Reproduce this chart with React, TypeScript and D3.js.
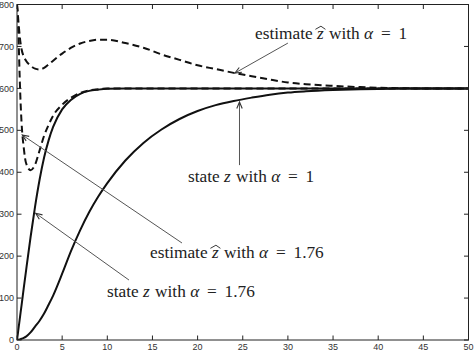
import { useEffect, useRef } from 'react'
import * as d3 from 'd3'

const W = 474
const H = 351

const tGrid = [0, 0.1, 0.2, 0.3, 0.4, 0.5, 0.75, 1, 1.5, 2, 2.5, 3, 3.5, 4, 5, 6, 7, 8, 9, 10, 12, 14, 16, 18, 20, 22, 24, 26, 28, 30, 32, 35, 38, 41, 44, 47, 50]

// state z, alpha = 1
const stateA1 = [0, 0, 1, 1, 2, 3, 5, 8, 18, 32, 46, 63, 84, 106, 158, 213, 262, 305, 342, 374, 428, 470, 502, 527, 546, 560, 570, 578, 585, 590, 593, 596, 598, 599, 600, 600, 600]
// state z, alpha = 1.76
const stateA176 = [0, 16, 33, 49, 66, 82, 124, 165, 245, 318, 382, 435, 476, 508, 550, 573, 587, 594, 597, 599, 600, 600, 600, 600, 600, 600, 600, 600, 600, 600, 600, 600, 600, 600, 600, 600, 600]
// estimate z-hat, alpha = 1
const estA1 = [800, 775, 748, 725, 707, 694, 676, 666, 654, 647, 645, 649, 657, 666, 683, 697, 707, 713, 716, 716, 708, 697, 681, 668, 655, 646, 637, 629, 621, 614, 610, 606, 603, 601, 600, 600, 600]
// estimate z-hat, alpha = 1.76
const estA176 = [800, 765, 700, 625, 565, 520, 458, 422, 405, 418, 452, 487, 513, 535, 561, 578, 589, 595, 598, 600, 600, 600, 600, 600, 600, 600, 600, 600, 600, 600, 600, 600, 600, 600, 600, 600, 600]

const xTicks = d3.range(0, 51, 5)
const yTicks = d3.range(0, 801, 100)

// annotation: label parts, text anchor point, arrow tail and tip (data coords)
const notes = [
  { kind: 'estimate', alpha: '1', text: [26.36, 717.7], tail: [30.0, 708], tip: [24.14, 636.6] },
  { kind: 'state', alpha: '1', text: [18.94, 376.7], tail: [24.64, 417], tip: [24.64, 567.5] },
  { kind: 'estimate', alpha: '1.76', text: [14.73, 195.5], tail: [18.27, 231.3], tip: [0.59, 488.8] },
  { kind: 'state', alpha: '1.76', text: [9.97, 102.5], tail: [12.4, 143], tip: [2.07, 302.1] },
]

export default function App() {
  const svgRef = useRef<SVGSVGElement | null>(null)

  useEffect(() => {
    const svg = d3.select(svgRef.current)
    svg.selectAll('*').remove()

    const x = d3.scaleLinear().domain([0, 50]).range([17, 468.5])
    const y = d3.scaleLinear().domain([0, 800]).range([340, 4.5])
    const [x0, x1] = x.range()
    const [y0, y1] = y.range()

    const lineGen = (vals: number[]) =>
      d3
        .line<number>()
        .x((_, i) => x(tGrid[i]))
        .y((v) => y(v))
        .curve(d3.curveMonotoneX)(vals)

    const plot = svg.append('g')
    plot
      .append('defs')
      .append('clipPath')
      .attr('id', 'clip')
      .append('rect')
      .attr('x', x0)
      .attr('y', y1)
      .attr('width', x1 - x0)
      .attr('height', y0 - y1)

    const curves = plot.append('g').attr('clip-path', 'url(#clip)')
    const series = [
      { vals: stateA1, dash: null },
      { vals: stateA176, dash: null },
      { vals: estA1, dash: '7,4' },
      { vals: estA176, dash: '7,4' },
    ]
    series.forEach((s) => {
      curves
        .append('path')
        .attr('d', lineGen(s.vals))
        .attr('fill', 'none')
        .attr('stroke', '#111')
        .attr('stroke-width', 2)
        .attr('stroke-dasharray', s.dash)
    })

    // frame + inward ticks
    const axes = svg.append('g').attr('stroke', '#222').attr('stroke-width', 1)
    axes
      .append('rect')
      .attr('x', x0)
      .attr('y', y1)
      .attr('width', x1 - x0)
      .attr('height', y0 - y1)
      .attr('fill', 'none')
    const tl = 4.5
    xTicks.forEach((t) => {
      axes.append('line').attr('x1', x(t)).attr('x2', x(t)).attr('y1', y0).attr('y2', y0 - tl)
      axes.append('line').attr('x1', x(t)).attr('x2', x(t)).attr('y1', y1).attr('y2', y1 + tl)
    })
    yTicks.forEach((v) => {
      axes.append('line').attr('x1', x0).attr('x2', x0 + tl).attr('y1', y(v)).attr('y2', y(v))
      axes.append('line').attr('x1', x1).attr('x2', x1 - tl).attr('y1', y(v)).attr('y2', y(v))
    })

    const labels = svg
      .append('g')
      .attr('font-family', 'Liberation Sans, Arial, sans-serif')
      .attr('font-size', 9)
      .attr('fill', '#333')
    xTicks.forEach((t) => {
      labels.append('text').attr('x', x(t)).attr('y', 350).attr('text-anchor', 'middle').text(t)
    })
    yTicks.forEach((v) => {
      labels
        .append('text')
        .attr('x', x0 - 3)
        .attr('y', y(v))
        .attr('dy', '0.35em')
        .attr('text-anchor', 'end')
        .text(v)
    })

    // annotations
    const ann = svg.append('g')
    const fs = 17.3
    notes.forEach((n) => {
      const tx = x(n.tail[0])
      const ty = y(n.tail[1])
      const px = x(n.tip[0])
      const py = y(n.tip[1])
      ann
        .append('line')
        .attr('x1', tx)
        .attr('y1', ty)
        .attr('x2', px)
        .attr('y2', py)
        .attr('stroke', '#555')
        .attr('stroke-width', 1)
      const ang = Math.atan2(ty - py, tx - px)
      const hl = 7
      const spread = 0.4
      const head = d3.path()
      head.moveTo(px + hl * Math.cos(ang - spread), py + hl * Math.sin(ang - spread))
      head.lineTo(px, py)
      head.lineTo(px + hl * Math.cos(ang + spread), py + hl * Math.sin(ang + spread))
      ann
        .append('path')
        .attr('d', head.toString())
        .attr('fill', 'none')
        .attr('stroke', '#333')
        .attr('stroke-width', 1.1)

      const text = ann
        .append('text')
        .attr('x', x(n.text[0]))
        .attr('y', y(n.text[1]))
        .attr('font-family', 'Liberation Serif, Times New Roman, serif')
        .attr('font-size', fs)
        .attr('fill', '#222')
      text.append('tspan').text(n.kind + ' ')
      const z = text.append('tspan').attr('font-style', 'italic').text('z')
      text.append('tspan').attr('dx', 1).text(' with ')
      text.append('tspan').attr('font-style', 'italic').text('α')
      text.append('tspan').attr('dx', 3.5).text(' =')
      text.append('tspan').attr('dx', 3.5).text(' ' + n.alpha)

      if (n.kind === 'estimate') {
        const bb = (z.node() as SVGTSpanElement).getBBox()
        const base = y(n.text[1])
        const hx0 = bb.x - 0.5
        const hx1 = bb.x + bb.width + 1.5
        const hat = d3.path()
        hat.moveTo(hx0, base - 0.56 * fs)
        hat.lineTo((hx0 + hx1) / 2 + 0.5, base - 0.74 * fs)
        hat.lineTo(hx1, base - 0.56 * fs)
        ann
          .append('path')
          .attr('d', hat.toString())
          .attr('fill', 'none')
          .attr('stroke', '#222')
          .attr('stroke-width', 0.9)
      }
    })
  }, [])

  return (
    <svg
      ref={svgRef}
      width={W}
      height={H}
      style={{ position: 'absolute', left: 0, top: 0, background: '#fff' }}
    />
  )
}
